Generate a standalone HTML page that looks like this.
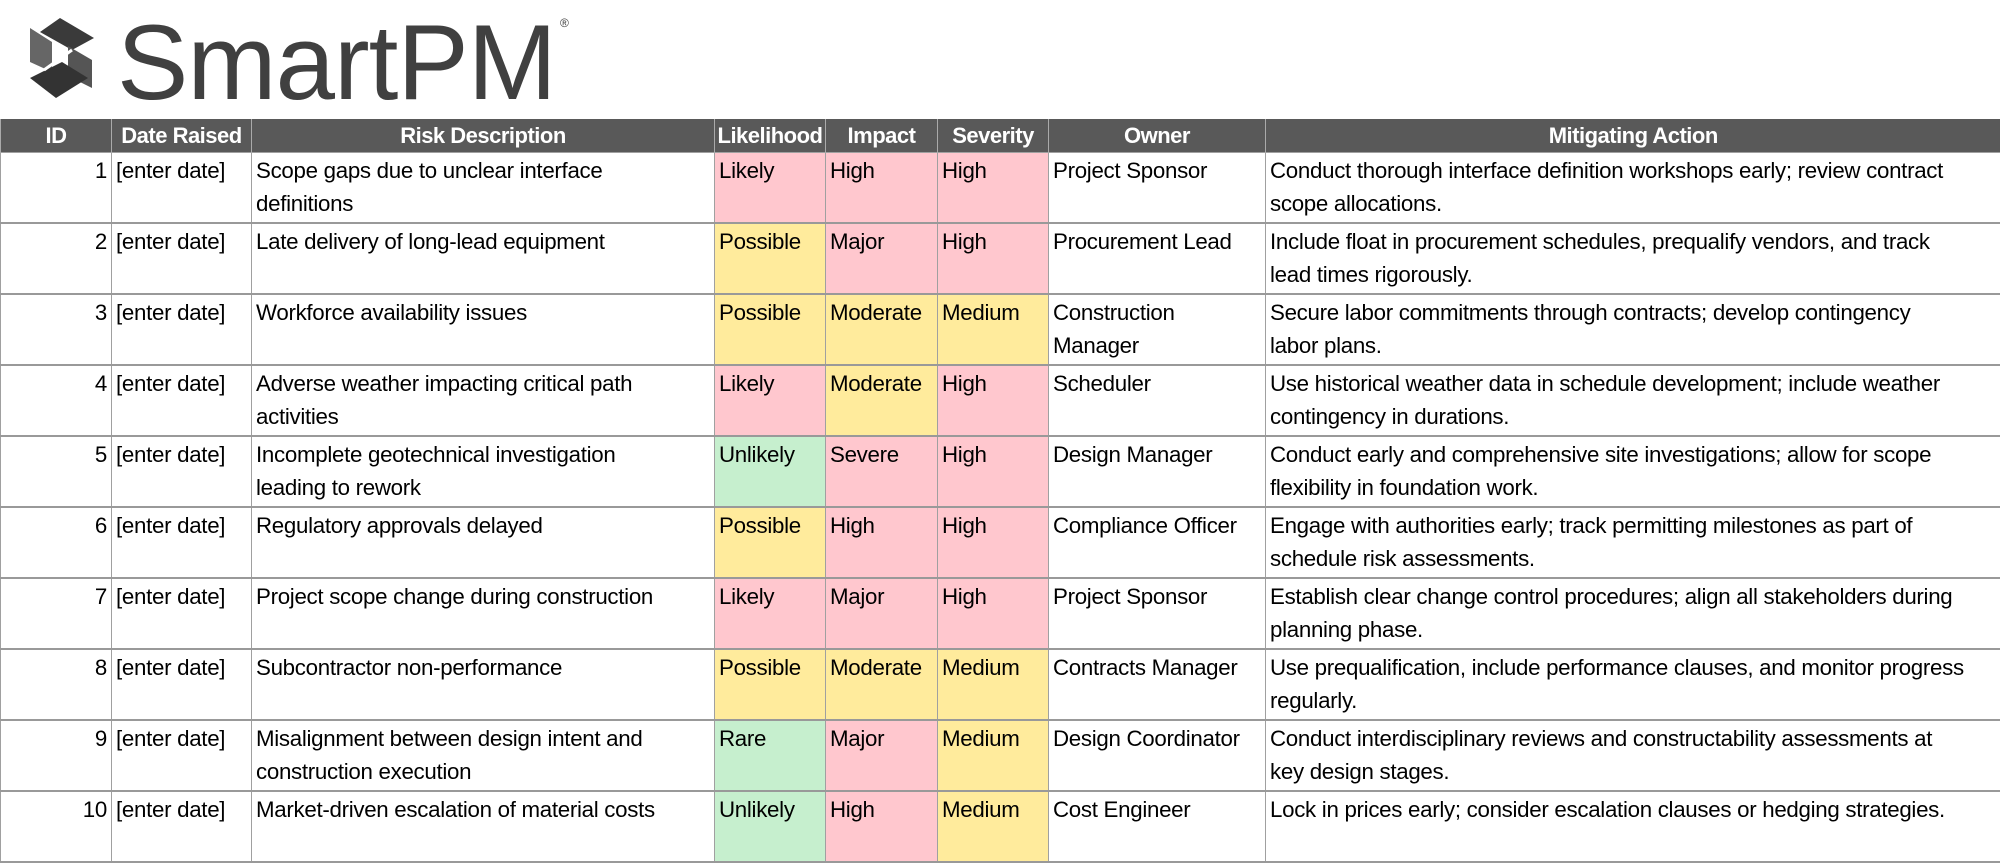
<!DOCTYPE html>
<html><head><meta charset="utf-8"><style>
body{margin:0;width:2000px;height:864px;background:#fff;overflow:hidden;position:relative;font-family:"Liberation Sans",sans-serif}
.logo{position:absolute;left:117px;top:0px;font-size:107px;color:#404040;letter-spacing:-1px}
.reg{position:absolute;left:560px;top:16px;font-size:12px;color:#404040}
table{position:absolute;left:0;top:119px;border-collapse:collapse;table-layout:fixed;width:2000px}
th{background:#595959;color:#fff;font-weight:bold;font-size:22px;height:33px;padding:0;border-left:1px solid #aaa;white-space:nowrap;overflow:hidden;letter-spacing:-0.5px}
td{height:68px;border:1px solid #a0a0a0;border-bottom:2px solid #999;vertical-align:top;font-size:22.3px;line-height:33px;padding:1px 4px 0;white-space:nowrap;overflow:hidden;color:#000;letter-spacing:-0.3px}
td.id{text-align:right}
.r{background:#ffc7ce}.y{background:#ffeb9c}.g{background:#c6efce}
</style></head><body>
<svg style="position:absolute;left:22px;top:16px" width="80" height="84" viewBox="0 0 80 84">
<polygon points="38,2 72,22 50,34 18,16" fill="#3a3a3a"/>
<polygon points="8,12 30,26 30,56 8,46" fill="#666"/>
<polygon points="46,30 70,44 70,72 46,60" fill="#555"/>
<polygon points="8,62 40,46 66,62 34,82" fill="#333"/>
<line x1="22" y1="54" x2="50" y2="34" stroke="#fff" stroke-width="3"/>
</svg>
<div class="logo">SmartPM</div><div class="reg">®</div>
<table>
<colgroup><col style="width:111px"><col style="width:140px"><col style="width:463px"><col style="width:111px"><col style="width:112px"><col style="width:111px"><col style="width:217px"><col style="width:735px"></colgroup>
<tr><th>ID</th><th>Date Raised</th><th>Risk Description</th><th>Likelihood</th><th>Impact</th><th>Severity</th><th>Owner</th><th>Mitigating Action</th></tr>
<tr><td class="id">1</td><td>[enter date]</td><td>Scope gaps due to unclear interface<br>definitions</td><td class="r">Likely</td><td class="r">High</td><td class="r">High</td><td>Project Sponsor</td><td>Conduct thorough interface definition workshops early; review contract<br>scope allocations.</td></tr>
<tr><td class="id">2</td><td>[enter date]</td><td>Late delivery of long-lead equipment</td><td class="y">Possible</td><td class="r">Major</td><td class="r">High</td><td>Procurement Lead</td><td>Include float in procurement schedules, prequalify vendors, and track<br>lead times rigorously.</td></tr>
<tr><td class="id">3</td><td>[enter date]</td><td>Workforce availability issues</td><td class="y">Possible</td><td class="y">Moderate</td><td class="y">Medium</td><td>Construction<br>Manager</td><td>Secure labor commitments through contracts; develop contingency<br>labor plans.</td></tr>
<tr><td class="id">4</td><td>[enter date]</td><td>Adverse weather impacting critical path<br>activities</td><td class="r">Likely</td><td class="y">Moderate</td><td class="r">High</td><td>Scheduler</td><td>Use historical weather data in schedule development; include weather<br>contingency in durations.</td></tr>
<tr><td class="id">5</td><td>[enter date]</td><td>Incomplete geotechnical investigation<br>leading to rework</td><td class="g">Unlikely</td><td class="r">Severe</td><td class="r">High</td><td>Design Manager</td><td>Conduct early and comprehensive site investigations; allow for scope<br>flexibility in foundation work.</td></tr>
<tr><td class="id">6</td><td>[enter date]</td><td>Regulatory approvals delayed</td><td class="y">Possible</td><td class="r">High</td><td class="r">High</td><td>Compliance Officer</td><td>Engage with authorities early; track permitting milestones as part of<br>schedule risk assessments.</td></tr>
<tr><td class="id">7</td><td>[enter date]</td><td>Project scope change during construction</td><td class="r">Likely</td><td class="r">Major</td><td class="r">High</td><td>Project Sponsor</td><td>Establish clear change control procedures; align all stakeholders during<br>planning phase.</td></tr>
<tr><td class="id">8</td><td>[enter date]</td><td>Subcontractor non-performance</td><td class="y">Possible</td><td class="y">Moderate</td><td class="y">Medium</td><td>Contracts Manager</td><td>Use prequalification, include performance clauses, and monitor progress<br>regularly.</td></tr>
<tr><td class="id">9</td><td>[enter date]</td><td>Misalignment between design intent and<br>construction execution</td><td class="g">Rare</td><td class="r">Major</td><td class="y">Medium</td><td>Design Coordinator</td><td>Conduct interdisciplinary reviews and constructability assessments at<br>key design stages.</td></tr>
<tr><td class="id">10</td><td>[enter date]</td><td>Market-driven escalation of material costs</td><td class="g">Unlikely</td><td class="r">High</td><td class="y">Medium</td><td>Cost Engineer</td><td>Lock in prices early; consider escalation clauses or hedging strategies.</td></tr>
</table>
</body></html>
